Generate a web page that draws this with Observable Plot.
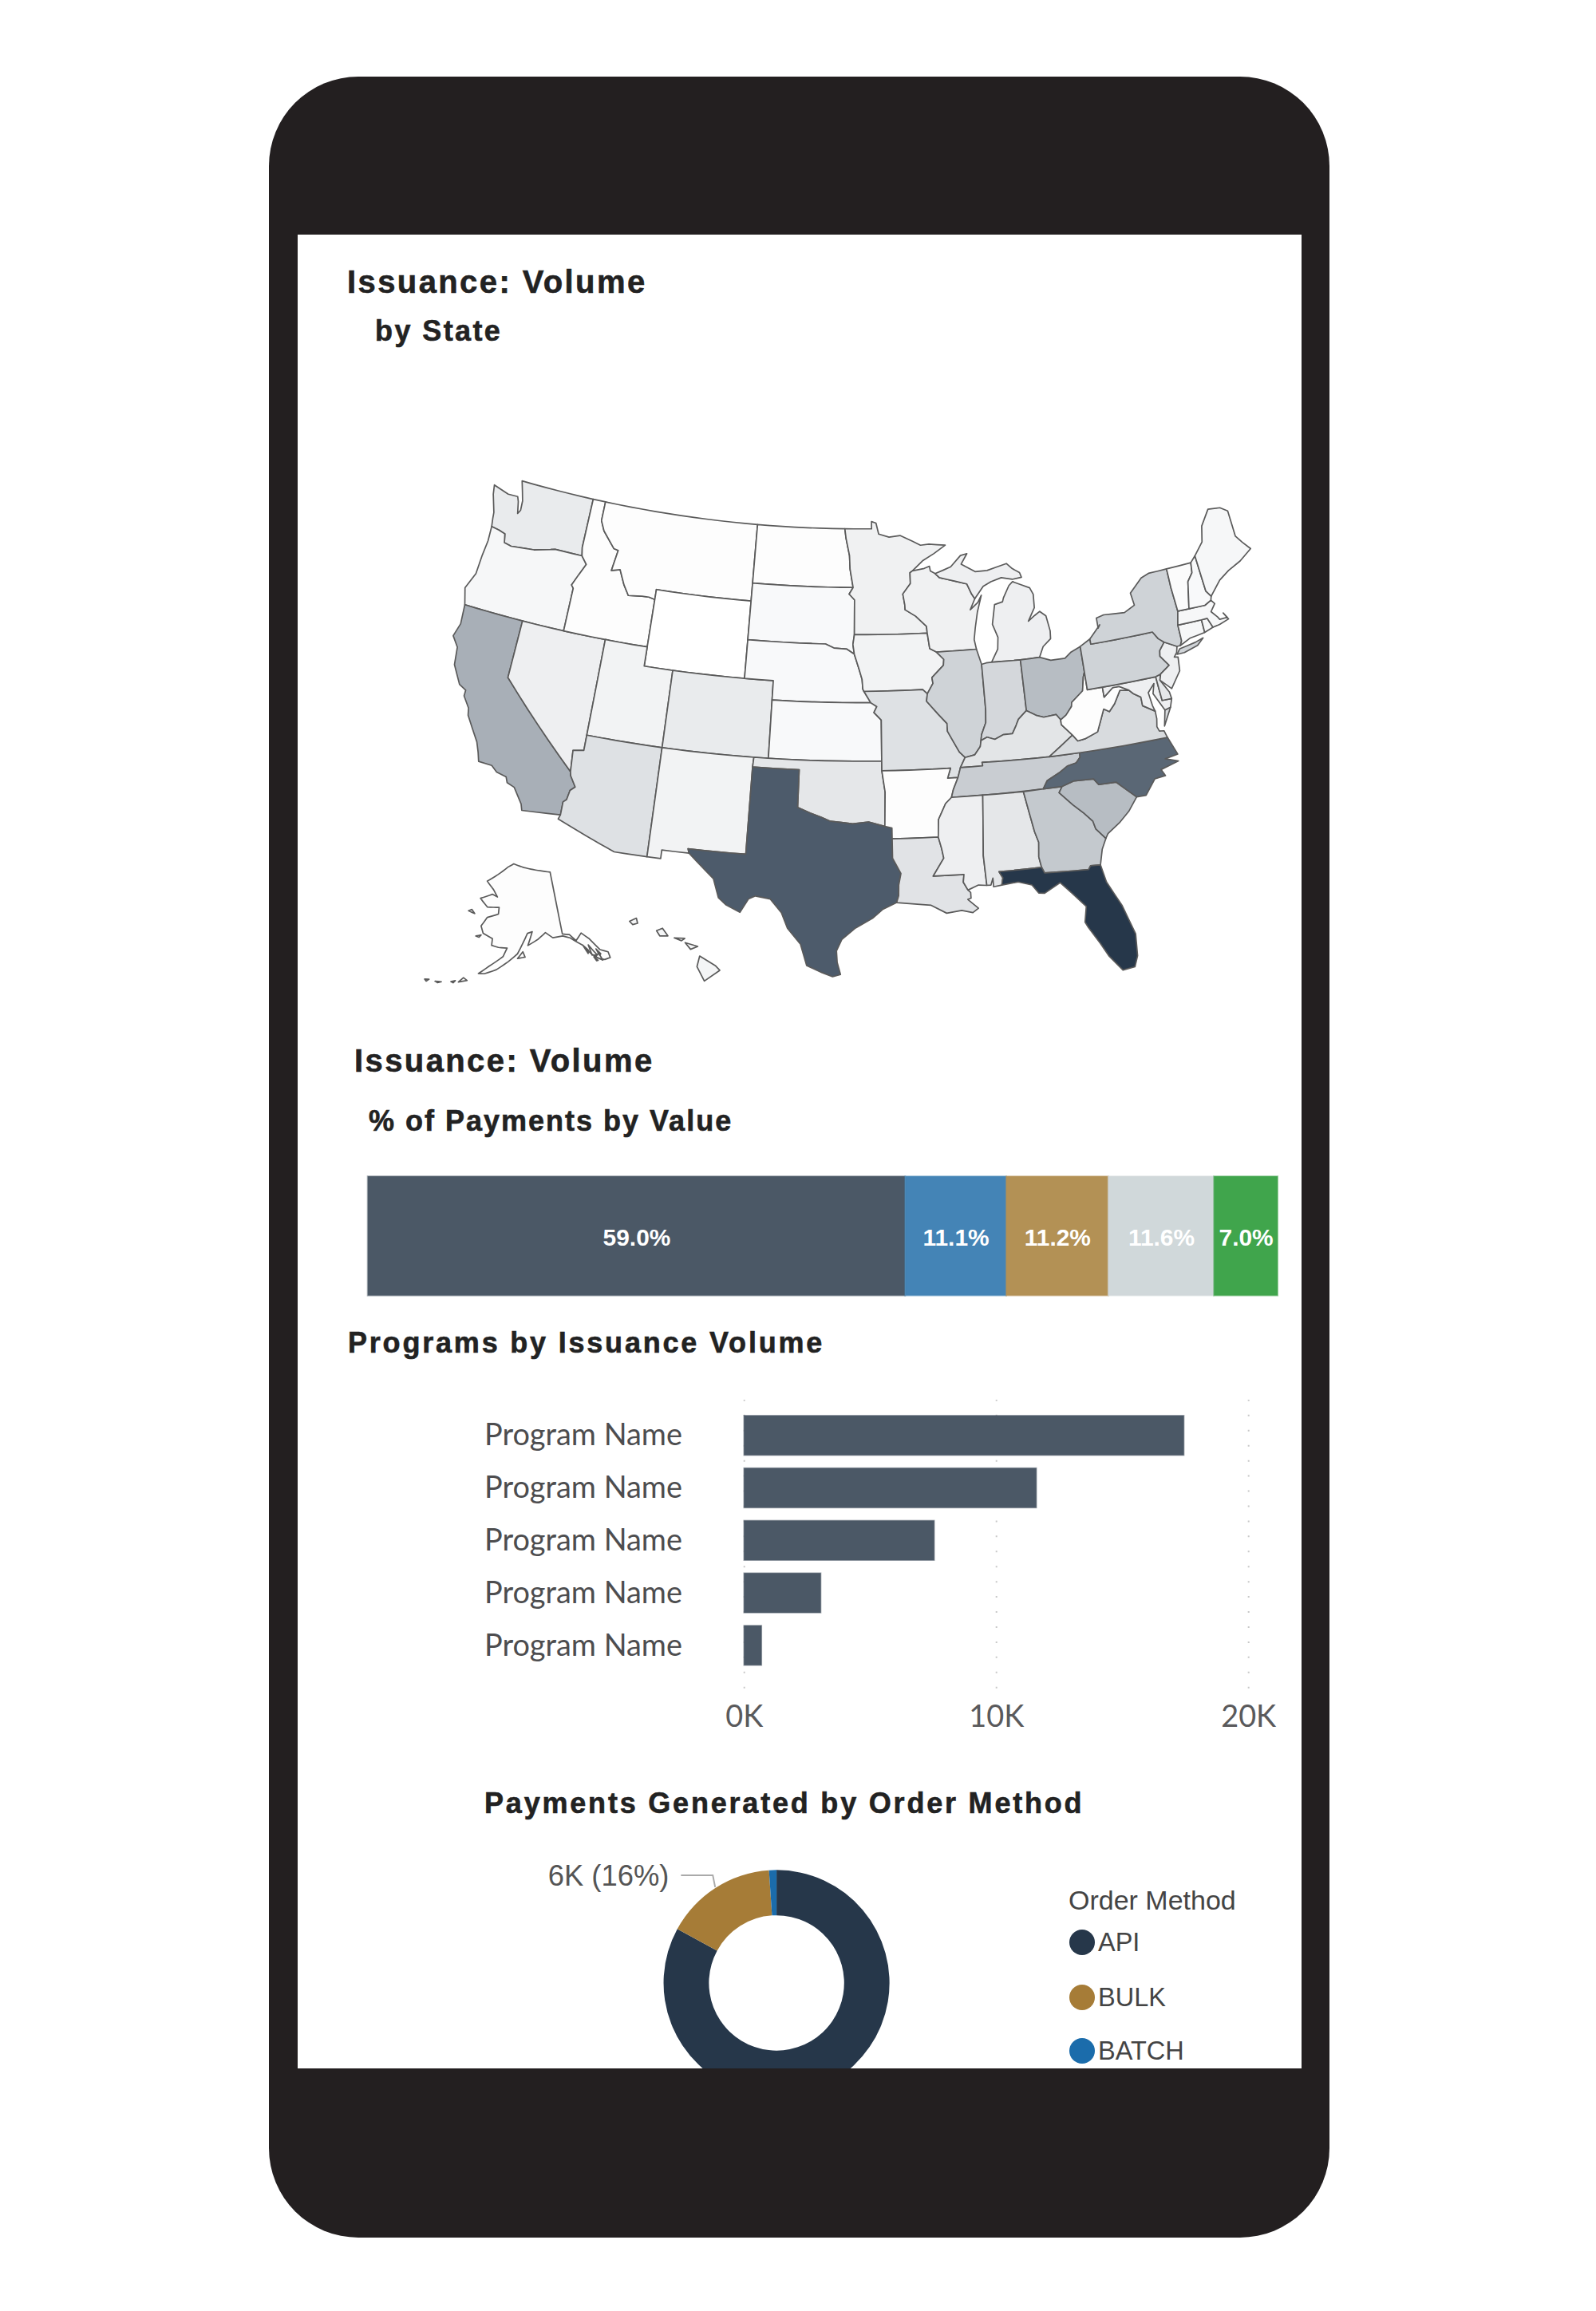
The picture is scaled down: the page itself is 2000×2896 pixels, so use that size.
<!DOCTYPE html>
<html><head><meta charset="utf-8">
<script src="https://cdn.jsdelivr.net/npm/d3@7"></script>
<script src="https://cdn.jsdelivr.net/npm/@observablehq/plot@0.6"></script>
<style>
html,body{margin:0;padding:0;background:#fff;width:2000px;height:2896px;overflow:hidden}
#phone{position:absolute;left:337px;top:96px;width:1329px;height:2708px;background:#231f20;border-radius:112px}
#screen{position:absolute;left:373px;top:294px;width:1258px;height:2298px;background:#fff;overflow:hidden}
#screen>*{position:absolute}
.t{font-family:"Liberation Sans",Arial,sans-serif;font-weight:700;color:#222;line-height:1;white-space:nowrap;-webkit-text-stroke:.6px #222}
.l{font-family:"Liberation Sans",Arial,sans-serif;color:#444;line-height:1;white-space:nowrap}
.sw{border-radius:50%;width:32px;height:32px}
</style></head><body>
<div id="phone"></div><div id="screen"></div>
<script>
// ---- chart values
const stateCodes=["WA","OR","CA","NV","ID","MT","WY","UT","CO","AZ","NM","ND","SD","NE","KS","OK","TX","MN","IA","MO","AR","LA","WI","IL","MI","IN","OH","KY","TN","MS","AL","GA","FL","SC","NC","VA","WV","MD","DE","PA","NJ","NY","CT","RI","MA","VT","NH","ME","AK","HI"];
const stateValues=[.10,.04,.40,.08,.01,.01,0,.06,.10,.15,.06,.01,.03,.03,.03,.12,.82,.07,.06,.15,.01,.14,.07,.22,.08,.20,.33,.13,.25,.08,.12,.27,1,.33,.76,.18,.01,.08,.12,.22,.08,.22,.04,.04,.04,.02,.03,.04,.01,.05];
const shareLabels=["59.0%","11.1%","11.2%","11.6%","7.0%"];
const shareValues=[59.0,11.1,11.2,11.6,7.0];
const shareColors=["#4b5866","#4484b6","#b39155","#d0d8da","#40a54c"];
const programNames=["Program Name","Program Name","Program Name","Program Name","Program Name"];
const programValues=[17450,11600,7550,3050,700];
const programTicks=[0,10000,20000];
const methodNames=["API","BULK","BATCH"];
const methodValues=[31100,6000,400];
const methodColors=["#26374a","#a67c37","#1b6cab"];
// ---- state outlines: "west,north" degrees; | separates islands
const stateShapes={
WA:"124.73,48.38 123.5,48.13 122.75,48.15 122.6,47.9 122.4,47.3 122.25,47.5 122.3,48 122.5,48.45 122.76,49 117.03,49 117.04,46.42 116.92,45.99 118.98,46 119.3,45.93 120.5,45.7 121.2,45.65 122.2,45.57 122.75,45.65 122.9,46.1 123.4,46.2 124,46.27 124.1,46.7 124.15,47 124.6,47.9",
OR:"124,46.27 123.4,46.2 122.9,46.1 122.75,45.65 122.2,45.57 121.2,45.65 120.5,45.7 119.3,45.93 118.98,46 116.92,45.99 116.47,45.6 116.85,45 117.2,44.4 117.03,44.25 117.03,43.8 117.03,42 124.21,42 124.55,42.84 124.1,43.7 124.05,44.7 123.95,45.5",
CA:"124.21,42 120,42 120,39 114.63,35 114.57,34.8 114.15,34.27 114.43,34.05 114.53,33.55 114.72,33.4 114.72,32.72 117.12,32.53 117.25,32.85 117.9,33.6 118.4,33.75 118.55,34.03 119.2,34.15 119.6,34.42 120.47,34.45 120.65,34.9 120.9,35.4 121.9,36.6 122,36.96 122.5,37.5 122.5,37.8 123,38 123.7,38.9 123.85,39.8 124.35,40.3 124.1,41",
NV:"120,42 114.04,42 114.05,37 114.05,36.2 114.74,36.1 114.63,35 120,39",
ID:"117.03,49 116.05,49 116.05,48 115.7,47.5 114.7,46.7 114.35,46.65 114.56,45.56 113.94,45.69 113.45,44.95 113,44.45 112,44.54 111.5,44.55 111.05,44.48 111.05,42 114.04,42 117.03,42 117.03,43.8 117.03,44.25 117.2,44.4 116.85,45 116.47,45.6 116.92,45.99 117.04,46.42",
MT:"116.05,49 104.05,49 104.05,45 111.05,45 111.05,44.48 111.5,44.55 112,44.54 113,44.45 113.45,44.95 113.94,45.69 114.56,45.56 114.35,46.65 114.7,46.7 115.7,47.5 116.05,48",
WY:"111.05,45 104.05,45 104.05,41 111.05,41",
UT:"114.04,42 111.05,42 111.05,41 109.05,41 109.05,37 114.05,37",
CO:"109.05,41 102.05,41 102.05,37 109.05,37",
NM:"109.05,37 103,37 103.04,36.5 103.06,32 106.62,32 106.53,31.78 108.21,31.78 108.21,31.33 109.05,31.33",
AZ:"114.05,37 109.05,37 109.05,31.33 111.07,31.33 114.81,32.49 114.72,32.72 114.72,33.4 114.53,33.55 114.43,34.05 114.15,34.27 114.57,34.8 114.63,35 114.74,36.1 114.05,36.2",
ND:"104.05,49 97.23,49 97.13,48.5 96.85,47.6 96.8,46.9 96.56,45.94 104.05,45.94",
SD:"104.05,45.94 96.56,45.94 96.85,45.6 96.45,45.3 96.45,43.5 96.55,43 96.45,42.5 97,42.76 97.9,42.8 98.5,43 104.05,43",
NE:"104.05,43 98.5,43 97.9,42.8 97,42.76 96.45,42.5 96.1,41.7 95.9,41.2 95.85,40.7 95.77,40.58 95.31,40 102.05,40 102.05,41 104.05,41",
KS:"102.05,40 95.31,40 94.9,39.8 95.1,39.5 94.61,39.1 94.62,37 102.05,37",
OK:"103,37 94.62,37 94.62,36.5 94.43,35.4 94.48,33.64 95.5,33.88 96.5,33.78 97.2,33.85 97.9,33.9 98.5,34.1 99.2,34.3 100,34.56 100,36.5 103.04,36.5",
TX:"103.04,36.5 100,36.5 100,34.56 99.2,34.3 98.5,34.1 97.9,33.9 97.2,33.85 96.5,33.78 95.5,33.88 94.48,33.64 94.04,33.55 94.04,33 94.04,32 93.55,31.2 93.7,30.6 93.72,30.05 93.85,29.7 94.7,29.35 95.3,28.9 96.3,28.4 97.1,27.8 97.4,27.2 97.35,26.6 97.15,25.97 97.6,25.85 98.2,26.05 99.1,26.4 99.5,27.5 100.3,28.3 100.7,29.1 101.4,29.77 102.3,29.88 102.7,29.7 103.15,28.98 104,29.3 104.5,29.65 104.9,30.6 106,31.4 106.53,31.78 106.62,32 103.06,32",
MN:"97.23,49 95.15,49 95.15,49.38 94.8,49.3 94.6,48.72 93.8,48.55 92.95,48.62 92,48.3 91.4,48.07 90.75,48.1 89.5,48 90.4,47.6 91.3,47.25 92.1,46.75 92.29,46.66 92.29,46.1 92.88,45.57 92.76,45 92.75,44.75 92,44.4 91.25,43.85 91.22,43.5 96.45,43.5 96.45,45.3 96.85,45.6 96.56,45.94 96.8,46.9 96.85,47.6 97.13,48.5",
IA:"96.45,43.5 91.22,43.5 91.1,42.7 90.64,42.5 90.15,42.1 90.2,41.8 91.05,41.2 91,40.9 91.42,40.38 91.73,40.61 95.77,40.58 95.85,40.7 95.9,41.2 96.1,41.7 96.45,42.5 96.55,43",
MO:"95.77,40.58 91.73,40.61 91.42,40.38 91.5,40 90.75,39.3 90.2,38.8 90.2,38.4 89.5,37.3 89.15,37 89.5,36.5 89.7,36 90.37,36 90.15,36.5 94.62,36.5 94.62,37 94.61,39.1 95.1,39.5 94.9,39.8 95.31,40",
AR:"94.62,36.5 90.15,36.5 90.37,36 89.7,36 90.05,35.4 90.2,35 90.6,34.7 91.1,33.9 91.17,33 94.04,33 94.04,33.55 94.48,33.64 94.43,35.4",
LA:"94.04,33 91.17,33 91,32.4 90.9,31.9 91.6,31 89.73,31 89.8,30.6 89.55,30.18 89.4,30.05 89.4,29.75 89.6,29.7 89,29.2 89.35,29 90,29.15 90.9,29.05 91.8,29.5 92.3,29.55 93.85,29.7 93.72,30.05 93.7,30.6 93.55,31.2 94.04,32",
WI:"90.4,46.55 90.1,46.33 89,46.1 88.1,45.9 87.8,45.35 87.6,45.1 88,44.55 87.4,44.9 87.1,45.25 87.5,44.4 87.75,43.6 87.9,43 87.8,42.5 90.64,42.5 91.1,42.7 91.22,43.5 91.25,43.85 92,44.4 92.75,44.75 92.76,45 92.88,45.57 92.29,46.1 92.29,46.66 92.1,46.75 91.2,46.85 90.8,46.95 90.75,46.7",
IL:"90.64,42.5 87.8,42.5 87.55,41.75 87.53,41.7 87.53,39.35 87.6,38.7 87.95,38.1 88.02,37.8 88.1,37.5 88.5,37.1 89.15,37 89.5,37.3 90.2,38.4 90.2,38.8 90.75,39.3 91.5,40 91.42,40.38 91,40.9 91.05,41.2 90.2,41.8 90.15,42.1",
MI:"86.82,41.76 84.8,41.72 83.45,41.73 83.1,42.25 82.5,42.6 82.45,43 82.6,43.8 83,44.07 83.4,43.9 83.9,43.65 83.35,44.3 83.3,45 83.5,45.35 84.7,45.78 85,45.6 85.5,45 85.6,44.8 86.2,44.7 86.5,43.7 86.2,43 86.3,42.4|90.4,46.55 89.2,46.85 88.4,47.4 87.9,47.47 88.4,46.95 87.4,46.5 86.5,46.5 85,46.75 84.6,46.45 84.1,46.2 84,45.95 84.7,45.9 85.5,46.05 86.3,45.9 86.9,45.7 87.6,45.1 87.8,45.35 88.1,45.9 89,46.1 90.1,46.33",
IN:"87.53,41.7 87.2,41.75 86.82,41.76 84.8,41.72 84.8,39.1 85.4,38.7 85.6,38.4 85.9,38 86.5,38 87.1,37.8 87.6,37.95 88.02,37.8 87.95,38.1 87.6,38.7 87.53,39.35",
OH:"84.8,41.72 83.45,41.73 82.7,41.5 81.7,41.5 81.25,41.75 80.52,41.97 80.52,40.64 80.65,40.4 80.85,39.7 81.7,39.2 81.75,39 82.2,38.6 82.6,38.4 82.85,38.7 83.7,38.65 84.2,38.8 84.8,39.1",
KY:"89.5,36.5 89.15,37 88.5,37.1 88.1,37.5 88.02,37.8 87.6,37.95 87.1,37.8 86.5,38 85.9,38 85.6,38.4 85.4,38.7 84.8,39.1 84.2,38.8 83.7,38.65 82.85,38.7 82.6,38.4 82.6,38.15 81.97,37.54 83.68,36.6 88.07,36.68 88.05,36.5",
TN:"90.2,35 90.05,35.4 89.7,36 89.5,36.5 88.05,36.5 88.07,36.68 83.68,36.6 81.68,36.59 81.7,36.35 82,36.1 82.6,36 83.1,35.75 84,35.4 84.32,35 88.2,35",
MS:"90.2,35 90.6,34.7 91.1,33.9 91.17,33 91,32.4 90.9,31.9 91.6,31 89.73,31 89.8,30.6 89.55,30.18 88.9,30.4 88.4,30.35 88.47,31.9 88.2,35",
AL:"88.2,35 85.6,34.98 85.18,32.87 85,32.3 85.1,31.55 85,31 87.6,31 87.4,30.67 87.5,30.3 88,30.25 88,30.7 88.15,30.35 88.4,30.35 88.47,31.9",
GA:"85.6,34.98 84.32,35 83.11,35 83.35,34.7 82.6,34 82,33.5 81.5,33 81.4,32.6 80.87,32.03 81.2,31.5 81.45,30.72 82.05,30.75 82.2,30.57 84.86,30.7 85,31 85.1,31.55 85,32.3 85.18,32.87",
FL:"87.6,31 85,31 84.86,30.7 82.2,30.57 82.05,30.75 81.45,30.72 81.25,29.8 80.55,28.45 80.05,26.9 80.15,25.75 80.4,25.2 81.1,25.13 81.75,25.95 82.15,26.7 82.7,27.6 82.85,27.9 82.65,28.7 83.4,29.5 84,30.1 85,29.65 85.35,29.7 85.7,30.15 86.5,30.38 87.5,30.3 87.4,30.67",
SC:"83.11,35 82.3,35.2 81.05,35.15 80.78,34.82 79.67,34.8 78.55,33.86 79.2,33.2 79.9,32.7 80.7,32.25 80.87,32.03 81.4,32.6 81.5,33 82,33.5 82.6,34 83.35,34.7",
NC:"84.32,35 83.11,35 82.3,35.2 81.05,35.15 80.78,34.82 79.67,34.8 78.55,33.86 77.95,33.85 77.2,34.6 76.5,34.65 76.7,35 75.5,35.25 76.3,35.5 75.45,35.6 75.87,36.55 81.68,36.59 81.7,36.35 82,36.1 82.6,36 83.1,35.75 84,35.4",
VA:"83.68,36.6 81.97,37.54 81.68,37.2 81.2,37.25 80.3,37.5 79.65,38.6 79.3,38.42 78.87,38.77 78.35,39.4 77.75,39.32 77.5,39.1 77.05,38.85 77.05,38.4 76.3,38 76.3,37.6 76.4,37.2 76.3,36.95 76,36.92 75.87,36.55 81.68,36.59|75.65,37.95 75.25,38.03 75.9,37.15",
WV:"80.52,40.64 80.52,39.72 79.48,39.72 79.48,39.2 78.8,39.6 78.35,39.6 77.75,39.32 78.35,39.4 78.87,38.77 79.3,38.42 79.65,38.6 80.3,37.5 81.2,37.25 81.68,37.2 81.97,37.54 82.6,38.15 82.6,38.4 82.2,38.6 81.75,39 81.7,39.2 80.85,39.7 80.65,40.4",
MD:"79.48,39.72 75.79,39.72 75.7,38.46 75.05,38.45 75.25,38.03 75.65,37.95 75.85,38.3 76.2,38.9 76,39.4 76.5,39 76.4,38.3 76.3,38 77.05,38.4 77.05,38.85 77.5,39.1 77.75,39.32 78.35,39.6 78.8,39.6 79.48,39.2",
DE:"75.79,39.72 75.42,39.8 75.55,39.5 75.1,38.8 75.05,38.45 75.7,38.46",
PA:"80.52,41.97 79.76,42.27 79.76,42 75.35,42 75.05,41.6 74.7,41.36 75.13,40.98 75.2,40.7 74.72,40.15 75.42,39.8 75.79,39.72 80.52,39.72 80.52,40.64",
NJ:"74.7,41.36 73.9,41 74.02,40.7 74.25,40.5 74,40.45 74.1,39.75 74.9,38.95 75.55,39.5 75.42,39.8 74.72,40.15 75.2,40.7 75.13,40.98",
NY:"79.76,42.27 79.76,42 75.35,42 75.05,41.6 74.7,41.36 73.9,41 73.66,41 73.5,41.22 73.5,42.05 73.27,42.75 73.35,44 73.34,45.01 74.7,45 75.3,44.85 76.3,44.2 76.2,43.55 77,43.28 78.5,43.37 79.05,43.27 79.05,42.75 78.9,42.9|74.02,40.6 73.75,40.85 72.6,40.98 72,41.1 72.5,40.8 73.5,40.6",
CT:"73.5,41.22 73.5,42.05 71.8,42.02 71.8,41.35 72.9,41.25 73.66,41",
RI:"71.8,42.02 71.38,42.02 71.15,41.5 71.8,41.35",
MA:"73.5,42.05 73.27,42.75 72.46,42.73 71.3,42.7 70.8,42.87 70.6,42.65 71,42.3 70.65,41.95 70.55,41.8 70,41.8 70.2,42.07 69.95,41.7 70.65,41.55 71.15,41.5 71.38,42.02 71.8,42.02",
VT:"73.34,45.01 71.5,45.01 71.6,44.5 72.05,44.1 72.46,42.73 73.27,42.75 73.35,44",
NH:"71.5,45.01 71.08,45.3 70.98,43.4 70.7,43.07 70.8,42.87 71.3,42.7 72.46,42.73 72.05,44.1 71.6,44.5",
ME:"71.08,45.3 70.3,45.9 70,46.7 69.2,47.45 68.3,47.35 67.8,47.07 67.8,45.7 67.45,45.3 67,44.85 68,44.4 69,44.1 69.8,43.75 70.7,43.07 70.98,43.4",
AK:"141,69.65 141,60.3 139,60 137.5,58.9 135.5,59.8 133.8,58.7 131.8,56.6 130,55.9 130,55 131.5,55 133,55.5 134.5,56.5 136,58 139,59.5 141,60 144,60 146,60.9 148.5,60 151.5,59.2 150,61.2 151.5,61 153,59.5 154.5,58 157,56.8 160,55.5 163,54.7 164.5,54.6 162,55.9 158.5,57.5 157.5,58.8 160,58.8 162,59 162,60 165,60.6 166,61.6 164.5,63 161,63.7 161,64.7 165,64.5 168,65.6 164,66.5 162,66.2 163.8,67.2 166.8,68.3 163,69.5 159,70.8 156.5,71.35 152,70.8 148,70.4 144,70|154.5,57.3 152.4,57.5 153,58.3|169,52.8 167,53.3 168,53.6|170.8,52.6 169.8,52.9 170.2,52.5|174.5,52 173,52.2 173.8,51.9|177,51.8 176,52 176.5,51.6|134.5,57.8 133,56 134.3,56.2|133.5,55.8 132,55 132.5,56.2|136,58 134.8,57 135.2,56.6|135.6,57.4 135,57 135.3,56.8|134,55.9 133.2,55.2 133.6,55.2|132.8,56.9 132,56 132.4,55.8|167,60 165.5,60.3 166,59.9|171,63.4 168.8,63.2 170,63.7",
HI:"155.9,20.25 155.05,19.75 154.8,19.5 155.65,18.95 156.05,19.7|156.7,20.95 156,20.75 156.4,20.6|158.28,21.57 157.95,21.7 157.65,21.3 158.1,21.3|159.78,22.05 159.4,22.22 159.33,21.95 159.6,21.88|157.3,21.2 156.72,21.17 156.9,21.05"
};
// ---- outlines to GeoJSON
function densify(ring){const o=[];ring.forEach((p,i)=>{const q=ring[(i+1)%ring.length];
  const n=Math.max(1,Math.ceil(Math.max(Math.abs(q[0]-p[0]),Math.abs(q[1]-p[1]))));
  for(let k=0;k<n;k++)o.push([p[0]+(q[0]-p[0])*k/n,p[1]+(q[1]-p[1])*k/n]);});o.push(o[0]);return o;}
function toFeature(code,i){
  const polys=stateShapes[code].split("|").map(s=>{
    let r=densify(s.trim().split(/\s+/).map(c=>{const [w,n]=c.split(",").map(Number);return [-w,n];}));
    if(d3.geoArea({type:"Polygon",coordinates:[r]})>2*Math.PI)r=r.slice().reverse();
    return [r];});
  return {type:"Feature",properties:{code,value:stateValues[i]},geometry:{type:"MultiPolygon",coordinates:polys}};
}
const features=stateCodes.map(toFeature);

const screen=document.getElementById("screen");
const OX=373,OY=294;
function place(n,x,y){n.style.left=(x-OX)+"px";n.style.top=(y-OY)+"px";screen.appendChild(n);return n;}
function title(txt,x,base,size,ls){const d=document.createElement("div");d.className="t";d.textContent=txt;
  d.style.fontSize=size+"px";d.style.letterSpacing=ls+"px";place(d,x,base-.8465*size);}
function label(txt,x,cy,size){const d=document.createElement("div");d.className="l";d.textContent=txt;
  d.style.fontSize=size+"px";place(d,x,cy-size/2);}

title("Issuance: Volume",435,367,40,2.4);
title("by State",470,427,36,2.4);
title("Issuance: Volume",444,1343,40,2.4);
title("% of Payments by Value",462,1417,36,2);
title("Programs by Issuance Volume",436,1695,36,2.8);
title("Payments Generated by Order Method",607,2272,36,2.8);

// map
place(Plot.plot({width:1262,height:720,margin:0,style:{background:"transparent"},
  projection:d3.geoAlbersUsa().scale(1390).translate([696,353]),
  color:{type:"linear",domain:[0,1],range:["#ffffff","#26374a"]},
  marks:[Plot.geo(features,{fill:d=>d.properties.value,stroke:"#5a5a5a",strokeWidth:1.7})]}),373,560);

// stacked share bar
const shares=shareLabels.map((label,i)=>({label,value:shareValues[i]}));
place(Plot.plot({width:1262,height:152,marginLeft:88,marginRight:30,marginTop:0,marginBottom:0,
  style:{background:"transparent"},
  x:{domain:[0,d3.sum(shareValues)],axis:null},
  color:{domain:shareLabels,range:shareColors},
  marks:[
    Plot.barX(shares,Plot.stackX({x:"value",fill:"label",stroke:"label",strokeOpacity:.45,strokeWidth:2,insetTop:1,insetBottom:1,insetLeft:0,insetRight:0})),
    Plot.text(shares,Plot.stackX({x:"value",text:"label",fill:"#fff",fontWeight:700,fontSize:30,fontFamily:"Liberation Sans",frameAnchor:"middle",dy:2}))
  ]}),373,1473);

// program bars
const programs=programValues.map((value,i)=>({i,value}));
place(Plot.plot({width:1262,height:480,marginLeft:561,marginRight:67,marginTop:39,marginBottom:66,
  style:{background:"transparent",fontFamily:"Lato",fontSize:"38px"},
  x:{domain:[0,20000]},
  y:{domain:d3.range(programNames.length),paddingInner:.25,paddingOuter:.436,align:.33},
  marks:[
    Plot.ruleX(programTicks,{stroke:"#c8c8c8",strokeWidth:2,strokeDasharray:"2,17"}),
    Plot.barX(programs,{x:"value",y:"i",fill:"#4b5866",stroke:"#4b5866",strokeOpacity:.5,strokeWidth:1.5}),
    Plot.axisY({tickSize:0,tickPadding:78,tickFormat:i=>programNames[i],color:"#4d4d4f",label:null,fontSize:38}),
    Plot.axisX({ticks:programTicks,tickSize:0,tickPadding:9,tickFormat:d=>d/1000+"K",color:"#5a5a5c",label:null,fontSize:38})
  ]}),373,1715);

// donut
const methods=methodNames.map((name,i)=>({name,value:methodValues[i]}));
function donut(index,{color},values,{width}){
  const cx=602,cy=185.5,R=142,r=85;
  const arcs=d3.pie().sort(null).value(d=>d.value)(methods);
  const g=d3.create("svg:g");
  const arc=d3.arc().innerRadius(r).outerRadius(R);
  g.selectAll("path").data(arcs).join("path").attr("transform",`translate(${cx},${cy})`)
    .attr("d",arc).attr("fill",d=>color(d.data.name));
  const b=arcs[1],mid=(b.startAngle+b.endAngle)/2;
  const px=cx+Math.sin(mid)*(R+1),py=cy-Math.cos(mid)*(R+1);
  g.append("path").attr("d",d3.line()([[px,py],[px-3,py-15],[px-43,py-15]])).attr("fill","none").attr("stroke","#aaa").attr("stroke-width",2);
  g.append("text").attr("x",px-58).attr("y",py-15).attr("dy","0.35em").attr("text-anchor","end")
    .attr("font-family","Liberation Sans").attr("font-size",36.5).attr("fill","#555")
    .text(d3.format(".0f")(b.data.value/1000)+"K ("+Math.round(100*b.data.value/d3.sum(methodValues))+"%)");
  return g.node();
}
place(Plot.plot({width:1262,height:400,margin:0,style:{background:"transparent"},
  color:{domain:methodNames,range:methodColors},
  marks:[donut]}),373,2300);

// legend
label("Order Method",1339,2381,34);
[2434,2503,2570].forEach((y,i)=>{
  const s=document.createElement("div");s.className="sw";s.style.background=methodColors[i];place(s,1340,y-16);
  label(methodNames[i],1376,y,32.5);
});
</script>
</body></html>
